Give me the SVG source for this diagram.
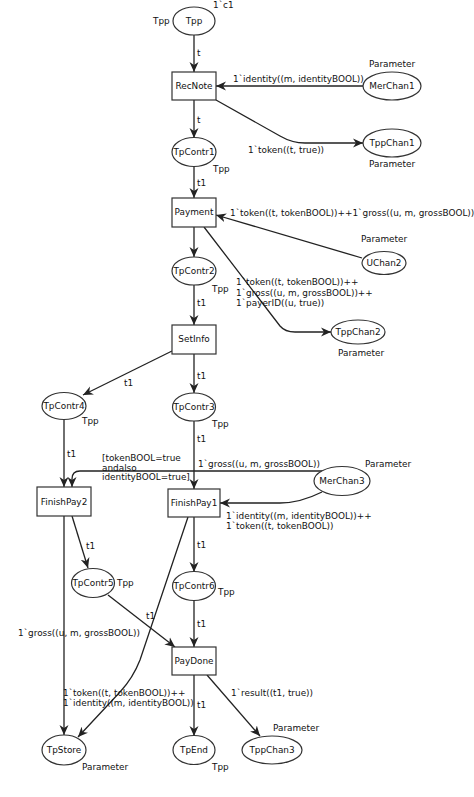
<svg xmlns="http://www.w3.org/2000/svg" width="474" height="797" viewBox="0 0 474 797">
<defs>
<marker id="arr" markerUnits="userSpaceOnUse" markerWidth="11" markerHeight="10" refX="10" refY="5" orient="auto">
<path d="M0,0.5 L10,5 L0,9.5 L3,5 z" fill="#222"/>
</marker>
</defs>
<style>
text{font-family:"DejaVu Sans","Liberation Sans",sans-serif;font-size:8.9px;fill:#111}
.c{text-anchor:middle}
.pl{fill:#fff;stroke:#333;stroke-width:1.2}
.tr{fill:#fff;stroke:#333;stroke-width:1.2}
.e{fill:none;stroke:#222;stroke-width:1.3;marker-end:url(#arr)}
</style>
<rect width="474" height="797" fill="#fff"/>
<g id="connectors">
<path class="e" d="M194,35 L194,72"/>
<path class="e" d="M363,86 L216,86"/>
<path class="e" d="M194,100 L194,138"/>
<path class="e" d="M216,100 L280,136 Q292,143 305,143 L363,143"/>
<path class="e" d="M194,167 L194,198"/>
<path class="e" d="M362,258 L216,215"/>
<path class="e" d="M194,227 L194,257"/>
<path class="e" d="M204,227 L280,326 Q285,332 295,332 L331,332"/>
<path class="e" d="M194,285 L194,325"/>
<path class="e" d="M172,351 L83,395"/>
<path class="e" d="M194,354 L194,393"/>
<path class="e" d="M64,420 L64,487"/>
<path class="e" d="M322,471 L80,471 Q72,471 72,479 L72,487"/>
<path class="e" d="M194,421 L194,489"/>
<path class="e" d="M322,492 Q300,503 280,503 L220,503"/>
<path class="e" d="M64,516 L64,735"/>
<path class="e" d="M72,516 L88,568"/>
<path class="e" d="M194,517 L194,572"/>
<path class="e" d="M188,517 L140,660 Q133,678 120,692 L78,737"/>
<path class="e" d="M108,595 L175,647"/>
<path class="e" d="M194,601 L194,647"/>
<path class="e" d="M194,675 L194,736"/>
<path class="e" d="M207,675 L260,736"/>
</g>
<g id="arc-labels">
<text x="197" y="56">t</text>
<text x="233" y="82">1`identity((m, identityBOOL))</text>
<text x="197" y="123">t</text>
<text x="248" y="153">1`token((t, true))</text>
<text x="197" y="186">t1</text>
<text x="230" y="216">1`token((t, tokenBOOL))++1`gross((u, m, grossBOOL))</text>
<text x="236" y="285">1`token((t, tokenBOOL))++</text>
<text x="236" y="296">1`gross((u, m, grossBOOL))++</text>
<text x="236" y="306">1`payerID((u, true))</text>
<text x="197" y="306">t1</text>
<text x="124" y="386">t1</text>
<text x="197" y="379">t1</text>
<text x="67" y="457">t1</text>
<text x="197" y="442">t1</text>
<text x="102" y="461">[tokenBOOL=true</text>
<text x="102" y="471">andalso</text>
<text x="102" y="480">identityBOOL=true]</text>
<text x="198" y="467">1`gross((u, m, grossBOOL))</text>
<text x="226" y="519">1`identity((m, identityBOOL))++</text>
<text x="226" y="529">1`token((t, tokenBOOL))</text>
<text x="86" y="549">t1</text>
<text x="197" y="548">t1</text>
<text x="146" y="619">t1</text>
<text x="197" y="627">t1</text>
<text x="18" y="636">1`gross((u, m, grossBOOL))</text>
<text x="63" y="696">1`token((t, tokenBOOL))++</text>
<text x="63" y="706">1`identity((m, identityBOOL))</text>
<text x="197" y="708">t1</text>
<text x="231" y="696">1`result((t1, true))</text>
</g>
<g id="Tpp"><ellipse class="pl" cx="194" cy="21" rx="21" ry="14"/><text class="c" x="194" y="24">Tpp</text><text x="153" y="24">Tpp</text><text x="213" y="8">1`c1</text></g>
<g id="RecNote"><rect class="tr" x="172" y="72" width="44" height="28"/><text class="c" x="194" y="89">RecNote</text></g>
<g id="MerChan1"><ellipse class="pl" cx="392" cy="86" rx="29" ry="14"/><text class="c" x="392" y="89">MerChan1</text><text x="369" y="67">Parameter</text></g>
<g id="TppChan1"><ellipse class="pl" cx="392" cy="143" rx="29" ry="14"/><text class="c" x="392" y="146">TppChan1</text><text x="369" y="167">Parameter</text></g>
<g id="TpContr1"><ellipse class="pl" cx="194" cy="152" rx="22" ry="14.5"/><text class="c" x="194" y="155">TpContr1</text><text x="213" y="172">Tpp</text></g>
<g id="Payment"><rect class="tr" x="172" y="198" width="44" height="29"/><text class="c" x="194" y="215">Payment</text></g>
<g id="UChan2"><ellipse class="pl" cx="384" cy="263" rx="22" ry="11.5"/><text class="c" x="384" y="266">UChan2</text><text x="361" y="242">Parameter</text></g>
<g id="TpContr2"><ellipse class="pl" cx="194" cy="271" rx="22" ry="14"/><text class="c" x="194" y="274">TpContr2</text><text x="212" y="292">Tpp</text></g>
<g id="TppChan2"><ellipse class="pl" cx="358" cy="332" rx="27" ry="12"/><text class="c" x="358" y="335">TppChan2</text><text x="338" y="356">Parameter</text></g>
<g id="SetInfo"><rect class="tr" x="172" y="325" width="44" height="29"/><text class="c" x="194" y="342">SetInfo</text></g>
<g id="TpContr4"><ellipse class="pl" cx="64" cy="406" rx="22" ry="13.5"/><text class="c" x="64" y="409">TpContr4</text><text x="82" y="424">Tpp</text></g>
<g id="TpContr3"><ellipse class="pl" cx="194" cy="407" rx="21.5" ry="14"/><text class="c" x="194" y="410">TpContr3</text><text x="212" y="427">Tpp</text></g>
<g id="MerChan3"><ellipse class="pl" cx="342" cy="481" rx="28" ry="14.5"/><text class="c" x="342" y="484">MerChan3</text><text x="365" y="467">Parameter</text></g>
<g id="FinishPay2"><rect class="tr" x="37" y="487" width="54" height="29"/><text class="c" x="64" y="505">FinishPay2</text></g>
<g id="FinishPay1"><rect class="tr" x="168" y="489" width="52" height="28"/><text class="c" x="194" y="506">FinishPay1</text></g>
<g id="TpContr5"><ellipse class="pl" cx="93" cy="583" rx="21.5" ry="14.5"/><text class="c" x="93" y="586">TpContr5</text><text x="117" y="586">Tpp</text></g>
<g id="TpContr6"><ellipse class="pl" cx="194" cy="586" rx="21.5" ry="14.5"/><text class="c" x="194" y="589">TpContr6</text><text x="218" y="595">Tpp</text></g>
<g id="PayDone"><rect class="tr" x="172" y="647" width="44" height="28"/><text class="c" x="194" y="664">PayDone</text></g>
<g id="TpStore"><ellipse class="pl" cx="64" cy="750" rx="22" ry="15"/><text class="c" x="64" y="753">TpStore</text><text x="82" y="770">Parameter</text></g>
<g id="TpEnd"><ellipse class="pl" cx="194" cy="750" rx="21" ry="14.5"/><text class="c" x="194" y="753">TpEnd</text><text x="212" y="770">Tpp</text></g>
<g id="TppChan3"><ellipse class="pl" cx="272" cy="750" rx="30" ry="14"/><text class="c" x="272" y="753">TppChan3</text><text x="273" y="731">Parameter</text></g>
</svg>
